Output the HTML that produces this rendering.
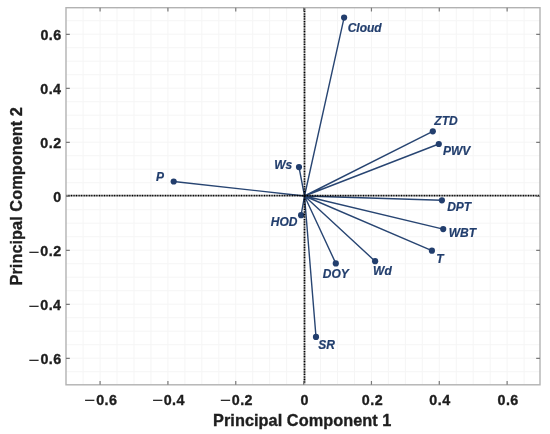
<!DOCTYPE html>
<html><head><meta charset="utf-8"><style>
html,body{margin:0;padding:0;background:#fff;width:550px;height:434px;overflow:hidden}
svg{display:block}
text{font-family:"Liberation Sans",Arial,Helvetica,sans-serif;font-weight:bold}
.lab{font-style:italic;font-size:12px;fill:#223e6d;stroke:#223e6d;stroke-width:0.2px}
.tk{font-size:14.3px;letter-spacing:0.45px;fill:#1e1e1e;stroke:#1e1e1e;stroke-width:0.35px}
.al{font-size:16.3px;letter-spacing:0.05px;fill:#1e1e1e;stroke:#1e1e1e;stroke-width:0.35px}
.tkm{stroke-width:0}
</style></head><body>
<svg width="550" height="434" viewBox="0 0 550 434">
<rect x="0" y="0" width="550" height="434" fill="#ffffff"/>
<path d="M83.12 7.70V384.80M66.00 371.70H540.00M100.08 7.70V384.80M66.00 358.20H540.00M117.04 7.70V384.80M66.00 344.70H540.00M134.00 7.70V384.80M66.00 331.20H540.00M150.96 7.70V384.80M66.00 317.70H540.00M167.92 7.70V384.80M66.00 304.20H540.00M184.88 7.70V384.80M66.00 290.70H540.00M201.84 7.70V384.80M66.00 277.20H540.00M218.80 7.70V384.80M66.00 263.70H540.00M235.76 7.70V384.80M66.00 250.20H540.00M252.72 7.70V384.80M66.00 236.70H540.00M269.68 7.70V384.80M66.00 223.20H540.00M286.64 7.70V384.80M66.00 209.70H540.00M320.56 7.70V384.80M66.00 182.70H540.00M337.52 7.70V384.80M66.00 169.20H540.00M354.48 7.70V384.80M66.00 155.70H540.00M371.44 7.70V384.80M66.00 142.20H540.00M388.40 7.70V384.80M66.00 128.70H540.00M405.36 7.70V384.80M66.00 115.20H540.00M422.32 7.70V384.80M66.00 101.70H540.00M439.28 7.70V384.80M66.00 88.20H540.00M456.24 7.70V384.80M66.00 74.70H540.00M473.20 7.70V384.80M66.00 61.20H540.00M490.16 7.70V384.80M66.00 47.70H540.00M507.12 7.70V384.80M66.00 34.20H540.00M524.08 7.70V384.80M66.00 20.70H540.00" stroke="#f5f5f5" stroke-width="1" fill="none"/>
<path d="M304.5 196.0L344.1 17.6M304.5 196.0L432.8 131.3M304.5 196.0L438.8 144.0M304.5 196.0L299.0 167.1M304.5 196.0L173.7 181.5M304.5 196.0L441.9 200.3M304.5 196.0L301.1 215.2M304.5 196.0L443.2 229.1M304.5 196.0L431.9 250.7M304.5 196.0L375.1 261.2M304.5 196.0L335.8 263.4M304.5 196.0L316.0 336.9" stroke="#284572" stroke-width="1.4" fill="none" stroke-linecap="round"/>
<circle cx="344.1" cy="17.6" r="3.1" fill="#223e6d"/>
<circle cx="432.8" cy="131.3" r="3.1" fill="#223e6d"/>
<circle cx="438.8" cy="144.0" r="3.1" fill="#223e6d"/>
<circle cx="299.0" cy="167.1" r="3.1" fill="#223e6d"/>
<circle cx="173.7" cy="181.5" r="3.1" fill="#223e6d"/>
<circle cx="441.9" cy="200.3" r="3.1" fill="#223e6d"/>
<circle cx="301.1" cy="215.2" r="3.1" fill="#223e6d"/>
<circle cx="443.2" cy="229.1" r="3.1" fill="#223e6d"/>
<circle cx="431.9" cy="250.7" r="3.1" fill="#223e6d"/>
<circle cx="375.1" cy="261.2" r="3.1" fill="#223e6d"/>
<circle cx="335.8" cy="263.4" r="3.1" fill="#223e6d"/>
<circle cx="316.0" cy="336.9" r="3.1" fill="#223e6d"/>
<path d="M66 195.7H540" stroke="#000000" stroke-width="1.8" stroke-dasharray="1.1 0.55" fill="none"/>
<path d="M304.5 7.7V384.8" stroke="#000000" stroke-width="1.8" stroke-dasharray="1.1 0.55" fill="none"/>
<rect x="66" y="7.7" width="474" height="377.1" stroke="#b2b2b2" stroke-width="1.4" fill="none"/>
<path d="M100.08 384.80v-3.8M100.08 7.70v3.8M66.00 358.45h3.8M540.00 358.45h-3.8M167.92 384.80v-3.8M167.92 7.70v3.8M66.00 304.45h3.8M540.00 304.45h-3.8M235.76 384.80v-3.8M235.76 7.70v3.8M66.00 250.45h3.8M540.00 250.45h-3.8M303.60 384.80v-3.8M303.60 7.70v3.8M66.00 196.45h3.8M540.00 196.45h-3.8M371.44 384.80v-3.8M371.44 7.70v3.8M66.00 142.45h3.8M540.00 142.45h-3.8M439.28 384.80v-3.8M439.28 7.70v3.8M66.00 88.45h3.8M540.00 88.45h-3.8M507.12 384.80v-3.8M507.12 7.70v3.8M66.00 34.45h3.8M540.00 34.45h-3.8" stroke="#7a7a7a" stroke-width="1.2" fill="none"/>
<text id="lab_Cloud" transform="translate(347.68 31.67)" class="lab">Cloud</text>
<text id="lab_ZTD" transform="translate(434.37 124.70)" class="lab">ZTD</text>
<text id="lab_PWV" transform="translate(443.00 154.70)" class="lab">PWV</text>
<text id="lab_Ws" transform="translate(274.29 169.04)" class="lab">Ws</text>
<text id="lab_P" transform="translate(156.07 180.68)" class="lab">P</text>
<text id="lab_DPT" transform="translate(447.19 211.15)" class="lab">DPT</text>
<text id="lab_HOD" transform="translate(270.82 226.18)" class="lab">HOD</text>
<text id="lab_WBT" transform="translate(448.64 236.90)" class="lab">WBT</text>
<text id="lab_T" transform="translate(436.19 263.21)" class="lab">T</text>
<text id="lab_Wd" transform="translate(373.12 274.90)" class="lab">Wd</text>
<text id="lab_DOY" transform="translate(322.74 277.62)" class="lab">DOY</text>
<text id="lab_SR" transform="translate(318.25 349.10)" class="lab">SR</text>
<text id="yt-3" transform="translate(40.42 363.72)" class="tk">0.6</text>
<text id="ytm-3" transform="translate(28.85 364.00) scale(1.3 0.8)" class="tk tkm">−</text>
<text id="yt-2" transform="translate(40.26 309.80)" class="tk">0.4</text>
<text id="ytm-2" transform="translate(28.85 310.00) scale(1.3 0.8)" class="tk tkm">−</text>
<text id="yt-1" transform="translate(40.36 255.70)" class="tk">0.2</text>
<text id="ytm-1" transform="translate(28.85 256.00) scale(1.3 0.8)" class="tk tkm">−</text>
<text id="yt0" transform="translate(53.35 201.83)" class="tk">0</text>
<text id="yt1" transform="translate(40.36 147.70)" class="tk">0.2</text>
<text id="yt2" transform="translate(40.26 93.80)" class="tk">0.4</text>
<text id="yt3" transform="translate(40.42 39.68)" class="tk">0.6</text>
<text id="xt-3" transform="translate(96.14 404.79)" class="tk">0.6</text>
<text id="xtm-3" transform="translate(84.55 403.90) scale(1.3 0.8)" class="tk tkm">−</text>
<text id="xt-2" transform="translate(163.69 404.90)" class="tk">0.4</text>
<text id="xtm-2" transform="translate(152.39 403.90) scale(1.3 0.8)" class="tk tkm">−</text>
<text id="xt-1" transform="translate(231.75 404.81)" class="tk">0.2</text>
<text id="xtm-1" transform="translate(220.24 403.90) scale(1.3 0.8)" class="tk tkm">−</text>
<text id="xt0" transform="translate(300.56 404.92)" class="tk">0</text>
<text id="xt1" transform="translate(361.82 404.81)" class="tk">0.2</text>
<text id="xt2" transform="translate(429.32 404.90)" class="tk">0.4</text>
<text id="xt3" transform="translate(497.49 404.82)" class="tk">0.6</text>
<text id="xlabel" transform="translate(302.22 425.55)" class="al" text-anchor="middle">Principal Component 1</text>
<text id="ylabel" transform="translate(21.88 196.26) rotate(-90)" class="al" text-anchor="middle">Principal Component 2</text>
</svg>
</body></html>
